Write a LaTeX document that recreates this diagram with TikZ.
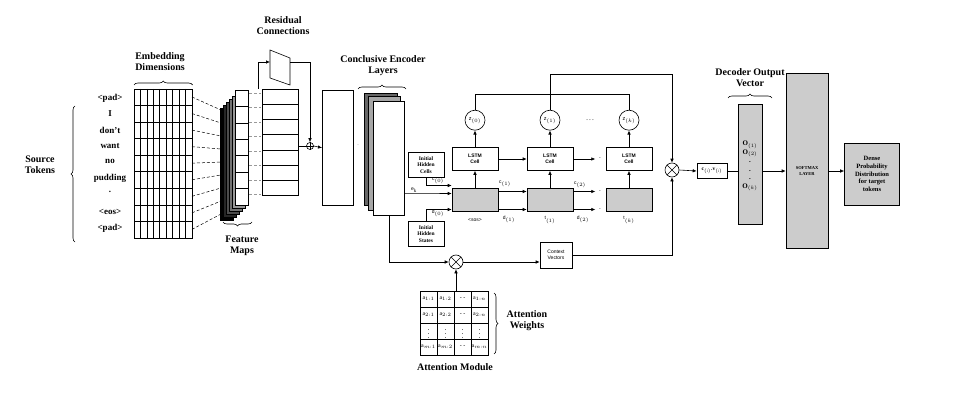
\documentclass[tikz,border=0pt]{standalone}
\usepackage{fontspec}
\setmainfont{Liberation Serif}
\setsansfont{Liberation Sans}
\usetikzlibrary{calc,decorations.pathreplacing,arrows.meta}
\begin{document}
\begin{tikzpicture}[x=1pt,y=-1pt,
                        lbl/.style={font=\bfseries\fontsize{10}{11}\selectfont,align=center},
                        tok/.style={font=\bfseries\fontsize{9}{10}\selectfont,inner sep=0},
                        box/.style={draw,line width=0.6,inner sep=0,minimum width=46,minimum height=23},
                        gbox/.style={box,fill=black!20},
                        sml/.style={font=\sffamily\fontsize{5}{6}\selectfont,align=center,inner sep=0},
                        tin/.style={font=\bfseries\fontsize{5.5}{6.2}\selectfont,align=center,inner sep=1},
                        circ/.style={draw,circle,line width=0.6,minimum size=20,inner sep=0},
                        mult/.style={draw,circle,line width=0.6,minimum size=14,inner sep=0,path picture={
                            \draw (path picture bounding box.north west) -- (path picture bounding box.south east)
                                  (path picture bounding box.north east) -- (path picture bounding box.south west);}},
                        br/.style={decorate,decoration={brace,amplitude=4},line width=0.6},
                        arr/.style={-{Latex[length=4,width=3.5]},line width=0.6},
                        ln/.style={line width=0.6}
                        ]
                        \useasboundingbox (0,0) rectangle (956,404);
                        \def\ex{134}  % embedding left
                        \def\ey{89}   % embedding top
                        \def\cw{6.44} % cell width
                        \def\ch{16.55}% cell height

                        % source tokens
                        \node[lbl] (src) at (40,165) {Source\\Tokens};
                        \draw[br] (75,242) -- (75,106);
                        \foreach \t/\y [count=\i] in {{<pad>}/98,I/114,{don't}/130,want/146,no/161,pudding/178,./192,{<eos>}/212,{<pad>}/228}
                            \node[tok] (tok\i) at (110,\y) {\t};

                        % embedding grid
                        \node[draw,line width=0.6,anchor=north west,minimum width=58,minimum height=149,inner sep=0] (emb) at (\ex,\ey) {};
                        \foreach \i in {1,...,8} {
                            \draw[ln] (\ex+\i*\cw,\ey) -- (\ex+\i*\cw,\ey+149);
                            \draw[ln] (\ex,\ey+\i*\ch) -- (\ex+58,\ey+\i*\ch);
                        }
                        \draw[br] (emb.north west) ++(0,-4) coordinate (eb1) -- ($(emb.north east)+(0,-4)$) coordinate (eb2);
                        \node[lbl] (embl) at (160,62) {Embedding\\Dimensions};

                        % feature maps
                        \foreach \i/\c in {0/black,1/black!85,2/black!70,3/black!55,4/black!40} {
                            \draw[ln,fill=\c] (220+3*\i,108-3*\i) rectangle ++(13,112);
                        }
                        \node[draw,line width=0.6,fill=white,anchor=north west,minimum width=13,minimum height=115,inner sep=0] (fm) at (235,90) {};
                        \foreach \i in {1,...,6} \draw[ln] (235,90+\i*16.4) -- (248,90+\i*16.4);
                        \foreach \i in {0,...,8}
                            \draw[densely dashed,line width=0.5] (192,\ey+8+\i*\ch) -- (221,110+\i*13);
                        \foreach \i in {0,...,7}
                            \draw[densely dashed,black!40,line width=0.4] (249,93+\i*14.5) -- (261,93+\i*14.5);
                        \draw[br] (252,222) -- (223,222);
                        \node[lbl] (fml) at (242,246) {Feature\\Maps};

                        % residual block
                        \node[draw,line width=0.6,anchor=north west,minimum width=36,minimum height=106,inner sep=0] (res) at (262,89) {};
                        \foreach \i in {1,...,6} \draw[ln] (262,89+\i*15.2) -- (298,89+\i*15.2);
                        \draw[ln] (270,50) -- (290,58) -- (290,85) -- (270,78) -- cycle;
                        \coordinate (trl) at (270,62);
                        \coordinate (trr) at (290,62);
                        \node[circle,draw,line width=0.6,minimum size=7,inner sep=0] (plus) at (310,146) {};
                        \draw[ln] (plus.north) -- (plus.south) (plus.west) -- (plus.east);
                        \draw[arr] (258,89) |- (trl);
                        \draw[arr] (trr) -| (plus.north);
                        \draw[ln] (298,146) -- (plus.west);
                        \node[lbl] (resl) at (283,26) {Residual\\Connections};

                        % encoder layers
                        \node[draw,line width=0.6,anchor=north west,minimum width=31,minimum height=115,inner sep=0] (enc0) at (322,90) {};
                        \draw[arr] (plus.east) -- (enc0.west);
                        \node[font=\tiny,black!40] at (358,145) {..};
                        \draw[ln,fill=black!60] (364,93) rectangle (397,205);
                        \draw[ln,fill=black!35] (368,96) rectangle (400,210);
                        \node[draw,line width=0.6,fill=white,anchor=north west,minimum width=31,minimum height=114,inner sep=0] (enc) at (373,101) {};
                        \draw[br] (358,89) -- (406,89);
                        \node[lbl] (encl) at (383,66) {Conclusive Encoder\\Layers};

                        % decoder chain
                        \foreach \n/\x/\t in {0/475/{<sos>},1/550/t$_{(1)}$,2/629/t$_{(k)}$} {
                            \node[gbox] (g\n) at (\x,199.5) {};
                            \node[box] (l\n) at (\x,159) {};
                            \node[sml,font=\sffamily\bfseries\fontsize{5}{6}\selectfont] at (l\n) {LSTM\\Cell};
                            \node[sml] (t\n) at (\x,220) {\t};
                            \draw[arr] (g\n.north) -- (l\n.south);
                        }
                        \foreach \n/\t in {0/0,1/1,2/k} {
                            \node[circ] (z\n) at ($(l\n.north)+(0,-27)$) {};
                            \node[sml,font=\sffamily\fontsize{5.5}{6}\selectfont] at (z\n) {z$_{(\t)}$};
                            \draw[arr] (l\n.north) -- (z\n.south);
                        }
                        \node[font=\tiny] at (590,121) {- - -};
                        \draw[arr] (l0.east) -- (l1.west);
                        \draw[arr] (l1.east) -- ++(22,0) coordinate (lx);
                        \draw[arr] ($(g0.east)+(0,-8)$) -- ($(g1.west)+(0,-8)$);
                        \draw[arr] ($(g0.east)+(0,10)$) -- ($(g1.west)+(0,10)$);
                        \draw[arr] ($(g1.east)+(0,-8)$) -- ++(22,0);
                        \draw[arr] ($(g1.east)+(0,10)$) -- ++(22,0);
                        \foreach \y in {159,191.5,209.5} \node[sml] at (600,\y) {-};
                        \node[sml] at (505,184) {c$_{(1)}$};
                        \node[sml] at (509,219) {d$_{(1)}$};
                        \node[sml] at (580,185) {c$_{(2)}$};
                        \node[sml] at (583,219) {d$_{(2)}$};

                        % initial states
                        \node[draw,line width=0.6,tin,minimum width=36,minimum height=25] (ihc) at (426,165) {Initial\\Hidden\\Cells};
                        \node[draw,line width=0.6,tin,minimum width=36,minimum height=25] (ihs) at (426,234) {Initial\\Hidden\\States};
                        \draw[arr] (ihc.south) |- ($(g0.west)+(0,-14)$);
                        \draw[arr] (ihs.north) |- ($(g0.west)+(0,10)$);
                        \node[sml] at (438,181) {c$_{(0)}$};
                        \node[sml] at (438,213) {d$_{(0)}$};
                        \draw[arr] ($(enc.east)+(0,35)$) -- node[sml,above,pos=0.2,yshift=1] {e$_{\rm k}$} ($(g0.west)+(0,-6)$);

                        % attention
                        \node[mult] (m1) at (456,262) {};
                        \node[draw,line width=0.6,sml,minimum width=32,minimum height=26] (ctx) at (556,255) {Context\\Vectors};
                        \draw[arr] (enc.south) |- (m1.west);
                        \draw[arr] (m1.east) -- (ctx.west |- m1);
                        \node[draw,line width=0.6,anchor=north west,minimum width=68,minimum height=64,inner sep=0] (att) at (420,291) {};
                        \foreach \i in {1,2,3} {
                            \draw[ln] (420+\i*17,291) -- (420+\i*17,355);
                            \draw[ln] (420,291+\i*16) -- (488,291+\i*16);
                        }
                        \foreach \r/\a/\b/\c in {0/{a$_{1:1}$}/{a$_{1:2}$}/{a$_{1:n}$},1/{a$_{2:1}$}/{a$_{2:2}$}/{a$_{2:n}$},3/{a$_{m:1}$}/{a$_{m:2}$}/{a$_{m:n}$}} {
                            \node[tin,font=\fontsize{6}{6}\selectfont] at (428.5,299+\r*16) {\a};
                            \node[tin,font=\fontsize{6}{6}\selectfont] at (445.5,299+\r*16) {\b};
                            \node[tin,font=\fontsize{6}{6}\selectfont] at (462.5,299+\r*16) {- -};
                            \node[tin,font=\fontsize{6}{6}\selectfont] at (479.5,299+\r*16) {\c};
                        }
                        \foreach \i in {0,...,3} \node[tin] at (428.5+\i*17,331) {$\vdots$};
                        \draw[arr] (att.north -| m1) -- (m1.south);
                        \draw[br] (494,293) -- (494,354);
                        \node[lbl] (attw) at (527,321) {Attention\\Weights};
                        \node[lbl] (attm) at (455,367) {Attention Module};

                        % output side
                        \node[mult] (m2) at (672,170) {};
                        \draw[arr] (z1.north) |- ++(0,-36) -| (m2.north);
                        \draw[ln] (z0.north) |- ++(0,-16) -| (z2.north);
                        \draw[arr] (ctx.east) -| (m2.south);
                        \node[draw,line width=0.6,tin,font=\bfseries\fontsize{5.5}{6}\selectfont,minimum width=30,minimum height=15] (cv) at (712,171) {c$_{\rm (i)}$.v$_{\rm (i)}$};
                        \draw[arr] (m2.east) -- (cv.west);
                        \node[draw,line width=0.6,fill=black!20,minimum width=24,minimum height=120,inner sep=0] (ov) at (750,164) {};
                        \node[tin,font=\bfseries\fontsize{7}{8.5}\selectfont] at (750,166) {O$_{(1)}$\\O$_{(2)}$\\.\\.\\.\\O$_{(k)}$};
                        \draw[ln] (cv.east) -- (ov.west |- cv);
                        \draw[br] (728,98) -- (772,98);
                        \node[lbl] (ovl) at (750,78) {Decoder Output\\Vector};
                        \node[draw,line width=0.6,fill=black!20,minimum width=42,minimum height=175,inner sep=0] (sm) at (807,160.5) {};
                        \node[tin,font=\bfseries\fontsize{4.5}{5.5}\selectfont] at (sm.center |- cv) {SOFTMAX\\LAYER};
                        \draw[arr] (ov.east |- cv) -- (sm.west |- cv);
                        \node[draw,line width=0.6,fill=black!20,minimum width=55,minimum height=62,inner sep=0,tin,font=\bfseries\fontsize{6.5}{7.6}\selectfont] (dp) at (872,174) {Dense\\Probability\\Distribution\\for target\\tokens};
                        \draw[arr] (sm.east |- cv) -- (dp.west |- cv);
                    \end{tikzpicture}
\end{document}
